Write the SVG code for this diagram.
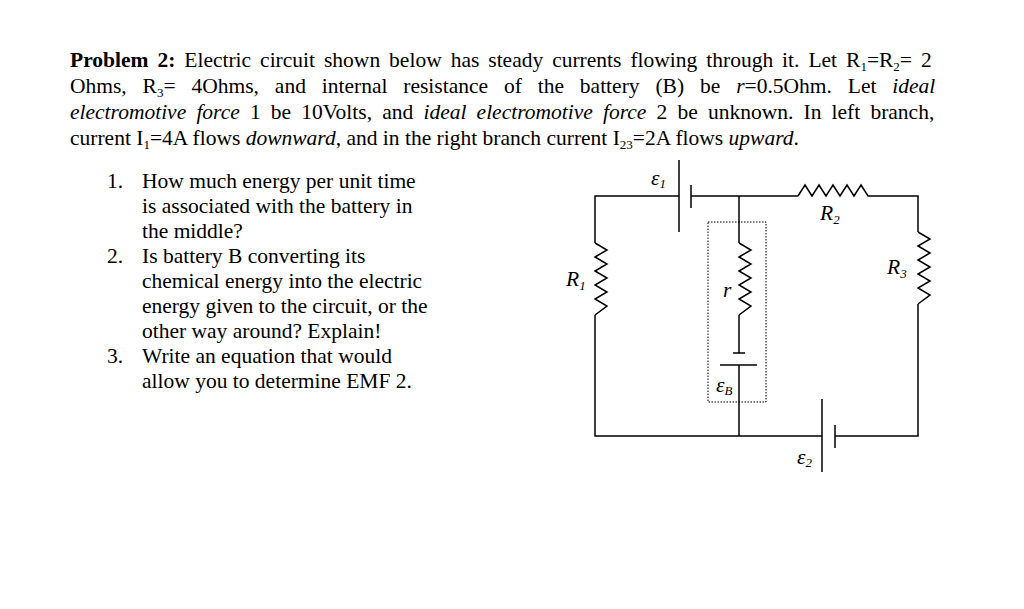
<svg xmlns="http://www.w3.org/2000/svg" width="1024" height="609" viewBox="0 0 1024 609">
<style>
text{font-family:"Liberation Serif",serif;font-size:21.5px;fill:#000}
.l{font-size:21.5px}
.i{font-style:italic}
.w{stroke:#000;stroke-width:1.5;fill:none}
.s{font-size:13px}
</style>
<rect width="1024" height="609" fill="#fff"/>
<g id="problem">
<text x="70" y="67" word-spacing="3.6"><tspan font-weight="bold">Problem 2:</tspan> Electric circuit shown below has steady currents flowing through it. Let R<tspan class="s" dy="4">1</tspan><tspan dy="-4">=R</tspan><tspan class="s" dy="4">2</tspan><tspan dy="-4">= 2</tspan></text>
<text x="70" y="93" word-spacing="10.5">Ohms, R<tspan class="s" dy="4">3</tspan><tspan dy="-4">= 4Ohms, and internal resistance of the battery (B) be </tspan><tspan class="i">r</tspan>=0.5Ohm. Let <tspan class="i">ideal</tspan></text>
<text x="70" y="119" word-spacing="4.8"><tspan class="i">electromotive force</tspan> 1 be 10Volts, and <tspan class="i">ideal electromotive force</tspan> 2 be unknown. In left branch,</text>
<text x="70" y="145">current I<tspan class="s" dy="4">1</tspan><tspan dy="-4">=4A flows </tspan><tspan class="i">downward</tspan>, and in the right branch current I<tspan class="s" dy="4">23</tspan><tspan dy="-4">=2A flows </tspan><tspan class="i">upward</tspan>.</text>
</g>
<g id="questions">
<text class="l" x="107" y="188">1.</text>
<text class="l" x="142" y="188">How much energy per unit time</text>
<text class="l" x="142" y="213">is associated with the battery in</text>
<text class="l" x="142" y="238">the middle?</text>
<text class="l" x="107" y="263">2.</text>
<text class="l" x="142" y="263">Is battery B converting its</text>
<text class="l" x="142" y="288">chemical energy into the electric</text>
<text class="l" x="142" y="313">energy given to the circuit, or the</text>
<text class="l" x="142" y="338">other way around? Explain!</text>
<text class="l" x="107" y="363">3.</text>
<text class="l" x="142" y="363">Write an equation that would</text>
<text class="l" x="142" y="388">allow you to determine EMF 2.</text>
</g>
<g id="connectors">
<path class="w" d="M679 196H595V243M595 315V436H822M835 436H918V304M918 232V196H872M798 196H691M739 196V243M739 315V353M739 365V436"/>
</g>
<g id="E1"><path class="w" d="M679 160V232M691 185V208" stroke-width="2"/><text class="i" x="651" y="185" font-size="24">ε<tspan class="s" dy="3">1</tspan></text></g>
<g id="R2"><path class="w" d="M798 196L805 185L812 196L819 185L826 196L833 185L840 196L847 185L854 196L861 185L868 196L872 196"/><text class="i" x="820" y="220" font-size="21">R<tspan class="s" dy="4">2</tspan></text></g>
<g id="R3"><path class="w" d="M918 232L930 239L918 246L930 253L918 260L930 267L918 274L930 281L918 288L930 295L918 304"/><text class="i" x="887" y="274" font-size="21">R<tspan class="s" dy="4">3</tspan></text></g>
<g id="R1"><path class="w" d="M595 243L607 250L595 257L607 264L595 271L607 278L595 285L607 292L595 299L607 306L595 315"/><text class="i" x="566" y="286" font-size="21">R<tspan class="s" dy="4">1</tspan></text></g>
<g id="B">
<rect x="708" y="222" width="58" height="180" fill="none" stroke="#000" stroke-width="1" stroke-dasharray="1.5,1.5"/>
<path class="w" d="M739 243L751 250L739 257L751 264L739 271L751 278L739 285L751 292L739 299L751 306L739 315"/>
<path class="w" d="M733 353H745M720 365H757"/>
<text class="i" x="723" y="297" font-size="17">r</text>
<text class="i" x="716" y="392" font-size="23">ε<tspan class="s" dy="3">B</tspan></text>
</g>
<g id="E2"><path class="w" d="M822 399V472M835 425V448" stroke-width="2"/><text class="i" x="797" y="464" font-size="24">ε<tspan class="s" dy="3">2</tspan></text></g>
</svg>
